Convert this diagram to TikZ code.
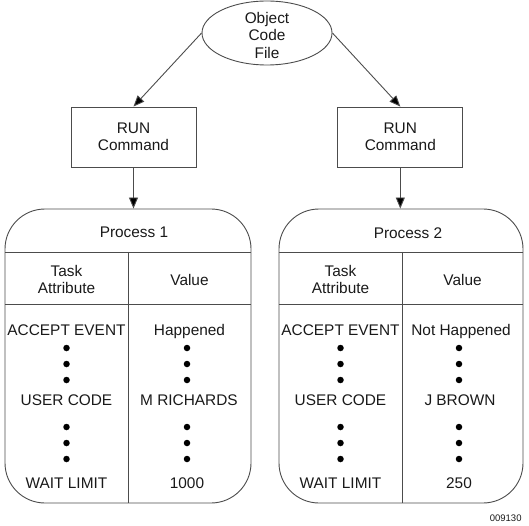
\documentclass[tikz,border=0pt]{standalone}
\usepackage{fontspec}
\setmainfont{Liberation Sans}
\usetikzlibrary{shapes.geometric,arrows.meta}
\begin{document}
\begin{tikzpicture}[x=1pt,y=-1pt,
  every node/.style={font=\fontsize{15.4}{17}\selectfont, text=black!90, inner sep=0pt},
  ln/.style={draw=black!70, line width=0.9pt},
  arr/.style={ln, -{Triangle[length=11pt,width=9pt,fill=black]}},
  txt/.style={text height=11pt, text depth=0pt},
  two/.style={align=center},
  dotn/.style={circle, fill=black, minimum size=6.5pt, inner sep=0pt},
  procbox/.style={ln, rectangle, rounded corners=40pt, inner sep=0pt},
  cmdbox/.style={ln, rectangle, minimum width=125pt, minimum height=60pt, align=center}
]
\useasboundingbox (0,0) rectangle (529,526);

% top ellipse
\node[ln, ellipse, minimum width=130pt, minimum height=64pt] (obj) at (267,33) {};
\node[align=center, font=\fontsize{15.4}{17.5}\selectfont] (objt) at (267,35.5) {Object\\Code\\File};

% RUN boxes
\node[cmdbox] (run1) at (133.5,137) {RUN\\Command};
\node[cmdbox] (run2) at (400.3,137) {RUN\\Command};

% process boxes
\node[procbox, minimum width=246pt, minimum height=294pt] (p1) at (128,356) {};
\node[procbox, minimum width=244pt, minimum height=294pt] (p2) at (401,356) {};

% connectors
\draw[arr] (obj.west) -- (run1.north);
\draw[arr] (obj.east) -- (run2.north);
\draw[arr] (run1.south) -- (run1.south |- p1.north);
\draw[arr] (run2.south) -- (run2.south |- p2.north);

% table lines, process 1
\draw[ln] (5,252) -- (251,252);
\draw[ln] (5,304) -- (251,304);
\draw[ln] (128,252) -- (128,503);
% table lines, process 2
\draw[ln] (279,252) -- (523,252);
\draw[ln] (279,304) -- (523,304);
\draw[ln] (402,252) -- (402,503);

% process 1 texts
\node[txt] (h1) at (134,232) {Process 1};
\node[two] (ta1) at (66.5,279) {Task\\Attribute};
\node[txt] (v1) at (189.5,280) {Value};
\node[txt] (ae1) at (66.5,330) {ACCEPT EVENT};
\node[txt] (hp1) at (189.5,330) {Happened};
\node[dotn] (d1a) at (66.5,348) {};
\node[dotn] (d1b) at (66.5,364) {};
\node[dotn] (d1c) at (66.5,380) {};
\node[dotn] (e1a) at (187,348) {};
\node[dotn] (e1b) at (187,364) {};
\node[dotn] (e1c) at (187,380) {};
\node[txt] (uc1) at (66.5,400) {USER CODE};
\node[txt] (mr1) at (189,400) {M RICHARDS};
\node[dotn] (d1d) at (66.5,427) {};
\node[dotn] (d1e) at (66.5,443) {};
\node[dotn] (d1f) at (66.5,459) {};
\node[dotn] (e1d) at (187,427) {};
\node[dotn] (e1e) at (187,443) {};
\node[dotn] (e1f) at (187,459) {};
\node[txt] (wl1) at (66.5,483) {WAIT LIMIT};
\node[txt] (n1) at (187,483) {1000};

% process 2 texts
\node[txt] (h2) at (408,233) {Process 2};
\node[two] (ta2) at (340.5,279) {Task\\Attribute};
\node[txt] (v2) at (462.5,280) {Value};
\node[txt] (ae2) at (340.5,330) {ACCEPT EVENT};
\node[txt] (hp2) at (461,330) {Not Happened};
\node[dotn] (d2a) at (340.5,348) {};
\node[dotn] (d2b) at (340.5,364) {};
\node[dotn] (d2c) at (340.5,380) {};
\node[dotn] (e2a) at (459,348) {};
\node[dotn] (e2b) at (459,364) {};
\node[dotn] (e2c) at (459,380) {};
\node[txt] (uc2) at (340.5,400) {USER CODE};
\node[txt] (jb2) at (460,400) {J BROWN};
\node[dotn] (d2d) at (340.5,427) {};
\node[dotn] (d2e) at (340.5,443) {};
\node[dotn] (d2f) at (340.5,459) {};
\node[dotn] (e2d) at (459,427) {};
\node[dotn] (e2e) at (459,443) {};
\node[dotn] (e2f) at (459,459) {};
\node[txt] (wl2) at (340.5,483) {WAIT LIMIT};
\node[txt] (n2) at (459,483) {250};

% figure number
\node[font=\fontsize{9.5}{11}\selectfont] (fig) at (505.7,518) {009130};
\end{tikzpicture}
\end{document}
